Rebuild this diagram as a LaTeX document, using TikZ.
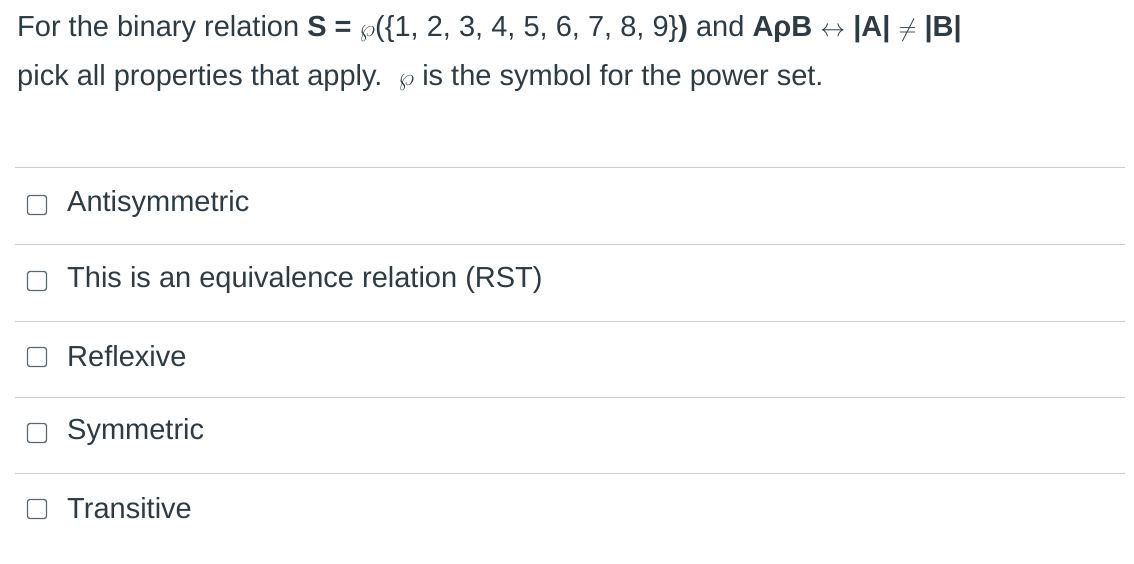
\documentclass[tikz,border=0pt]{standalone}
\usepackage{fontspec}
\setmainfont{Liberation Sans}
\definecolor{txt}{HTML}{2D3B45}
\definecolor{rule}{HTML}{C7CDD1}
\definecolor{boxc}{HTML}{5B6770}
\begin{document}
\begin{tikzpicture}[x=1pt,y=-1pt,
  lbl/.style={anchor=base west,inner sep=0pt,text=txt,font=\fontsize{29}{34}\selectfont},
  chk/.style={draw=boxc,line width=1.3pt,rounded corners=2.5pt,minimum size=19pt,inner sep=0pt},
  sep/.style={draw=rule,line width=1pt}]
\useasboundingbox[fill=white] (0,0) rectangle (1134,564);
\node[lbl] (l1) at (17,37) {For the binary relation \textbf{S =} $\wp$(\{1, 2, 3, 4, 5, 6, 7, 8, 9\}\textbf{)} and \textbf{AρB} $\leftrightarrow$ \textbf{|A|} $\neq$ \textbf{|B|}};
\node[lbl] (l2) at (17,86) {pick all properties that apply.\ \ $\wp$ is the symbol for the power set.};
\foreach \y in {168,244,321,397,473}{\draw[sep] (15,\y) -- (1125,\y);}
\foreach \y/\t/\n in {205/Antisymmetric/a,281/This is an equivalence relation (RST)/b,357/Reflexive/c,433/Symmetric/d,509/Transitive/e}{
  \node[chk] (c\n) at (37,\y) {};
  \node[lbl,anchor=west] (t\n) at (67,\y-1) {\t};
}
\end{tikzpicture}
\end{document}
